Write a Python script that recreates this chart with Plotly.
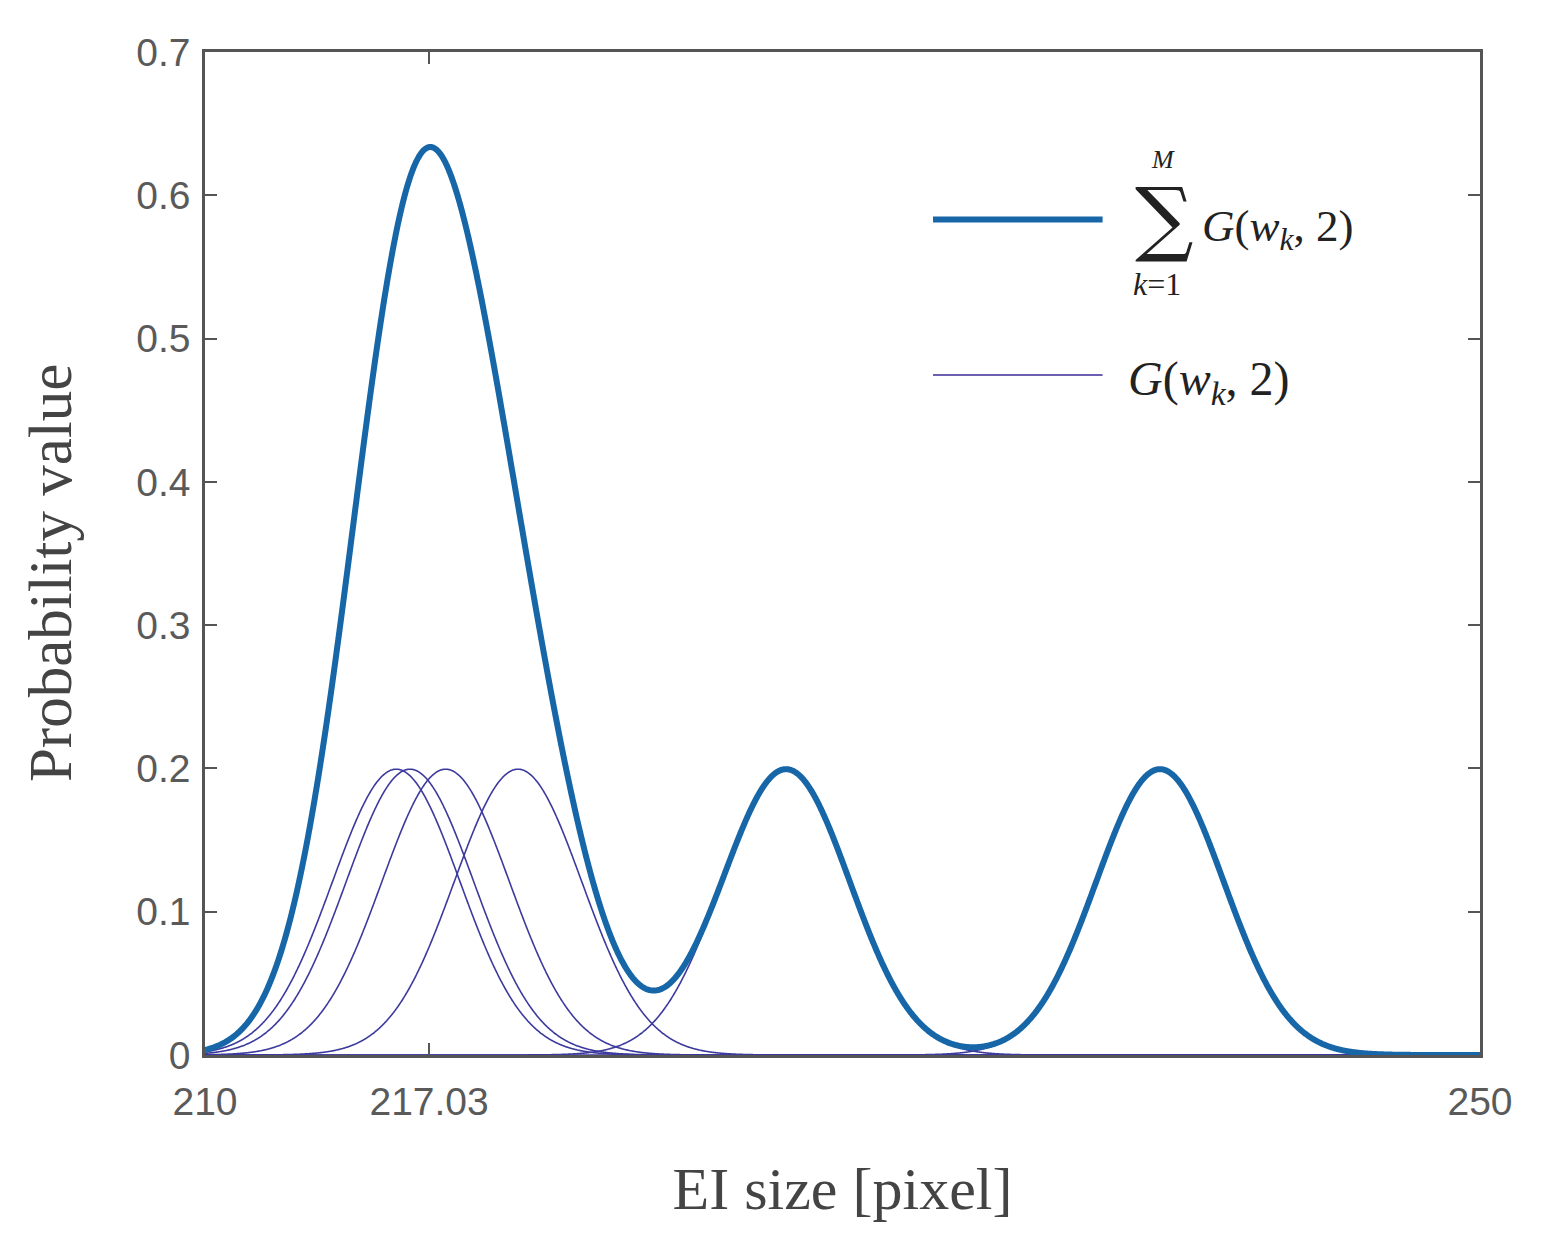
import numpy as np
import plotly.graph_objects as go

# data
centres = [216.0, 216.43, 217.55, 219.82, 228.23, 239.96]   # w_k
sigma = 2.0
x_range = [210, 250]
x_ticks = [210, 217.03, 250]
y_ticks = [0, 0.1, 0.2, 0.3, 0.4, 0.5, 0.6, 0.7]

x = np.linspace(x_range[0], x_range[1], 2001)


def G(w, s):
    return np.exp(-(x - w) ** 2 / (2 * s ** 2)) / (s * np.sqrt(2 * np.pi))


parts = [G(w, sigma) for w in centres]
total = np.sum(parts, axis=0)

THICK = "#1767a8"
THIN = "#3d3a9e"
GREY = "#555555"
TXT = "#222222"

fig = go.Figure()

for p in parts:
    fig.add_trace(go.Scatter(x=x, y=p, mode="lines",
                             line=dict(color=THIN, width=1.6, simplify=False),
                             showlegend=False, hoverinfo="skip"))

fig.add_trace(go.Scatter(x=x, y=total, mode="lines",
                         line=dict(color=THICK, width=6, simplify=False),
                         showlegend=False, hoverinfo="skip"))

# hand made legend (plotly has no mathtext offline)
fig.add_shape(type="line", xref="paper", yref="paper",
              x0=0.571, x1=0.704, y0=0.833, y1=0.833,
              line=dict(color=THICK, width=6))
fig.add_shape(type="line", xref="paper", yref="paper",
              x0=0.571, x1=0.704, y0=0.678, y1=0.678,
              line=dict(color="#6a5fb0", width=2))

serif = "Liberation Serif"
fig.add_annotation(xref="paper", yref="paper", x=0.777, y=0.835,
                   text="∑", showarrow=False, yanchor="middle",
                   font=dict(family="DejaVu Serif", size=82, color=TXT))
fig.add_annotation(xref="paper", yref="paper", x=0.762, y=0.909,
                   text="<i>M</i>", showarrow=False,
                   font=dict(family=serif, size=26, color=TXT))
fig.add_annotation(xref="paper", yref="paper", x=0.767, y=0.789,
                   text="<i>k</i>=1", showarrow=False,
                   font=dict(family=serif, size=32, color=TXT))
fig.add_annotation(xref="paper", yref="paper", x=0.780, y=0.853,
                   xanchor="left",
                   text="<i>G</i>(<i>w</i><sub><i>k</i></sub>, 2)", showarrow=False,
                   font=dict(family=serif, size=45, color=TXT))
fig.add_annotation(xref="paper", yref="paper", x=0.722, y=0.703,
                   xanchor="left",
                   text="<i>G</i>(<i>w</i><sub><i>k</i></sub>, 2)", showarrow=False,
                   font=dict(family=serif, size=48, color=TXT))

# y title placed by hand, it sits a bit below the axis middle
fig.add_annotation(xref="paper", yref="paper", x=-0.149, y=0.48,
                   text="Probability value", textangle=-90, showarrow=False,
                   font=dict(family=serif, size=61, color="#444444"))

axis_common = dict(showline=True, linecolor=GREY, linewidth=2.5, mirror="ticks",
                   ticks="inside", ticklen=12, tickwidth=2, tickcolor=GREY,
                   showgrid=False, zeroline=False, automargin=False,
                   tickfont=dict(family="Liberation Sans", size=39, color="#5a5a5a"))

fig.update_xaxes(range=x_range, tickvals=x_ticks,
                 ticktext=[str(v) for v in x_ticks],
                 ticklabelstandoff=10,
                 title=dict(text="EI size [pixel]", standoff=46,
                            font=dict(family=serif, size=60, color="#444444")),
                 **axis_common)
fig.update_yaxes(range=[0, 0.7], tickvals=y_ticks,
                 ticktext=[f"{v:g}" for v in y_ticks],
                 ticklabelstandoff=4,
                 **axis_common)

fig.update_layout(width=1549, height=1251,
                  margin=dict(l=197, r=77, t=44, b=204),
                  paper_bgcolor="white", plot_bgcolor="white")

fig.write_html("out.html")
